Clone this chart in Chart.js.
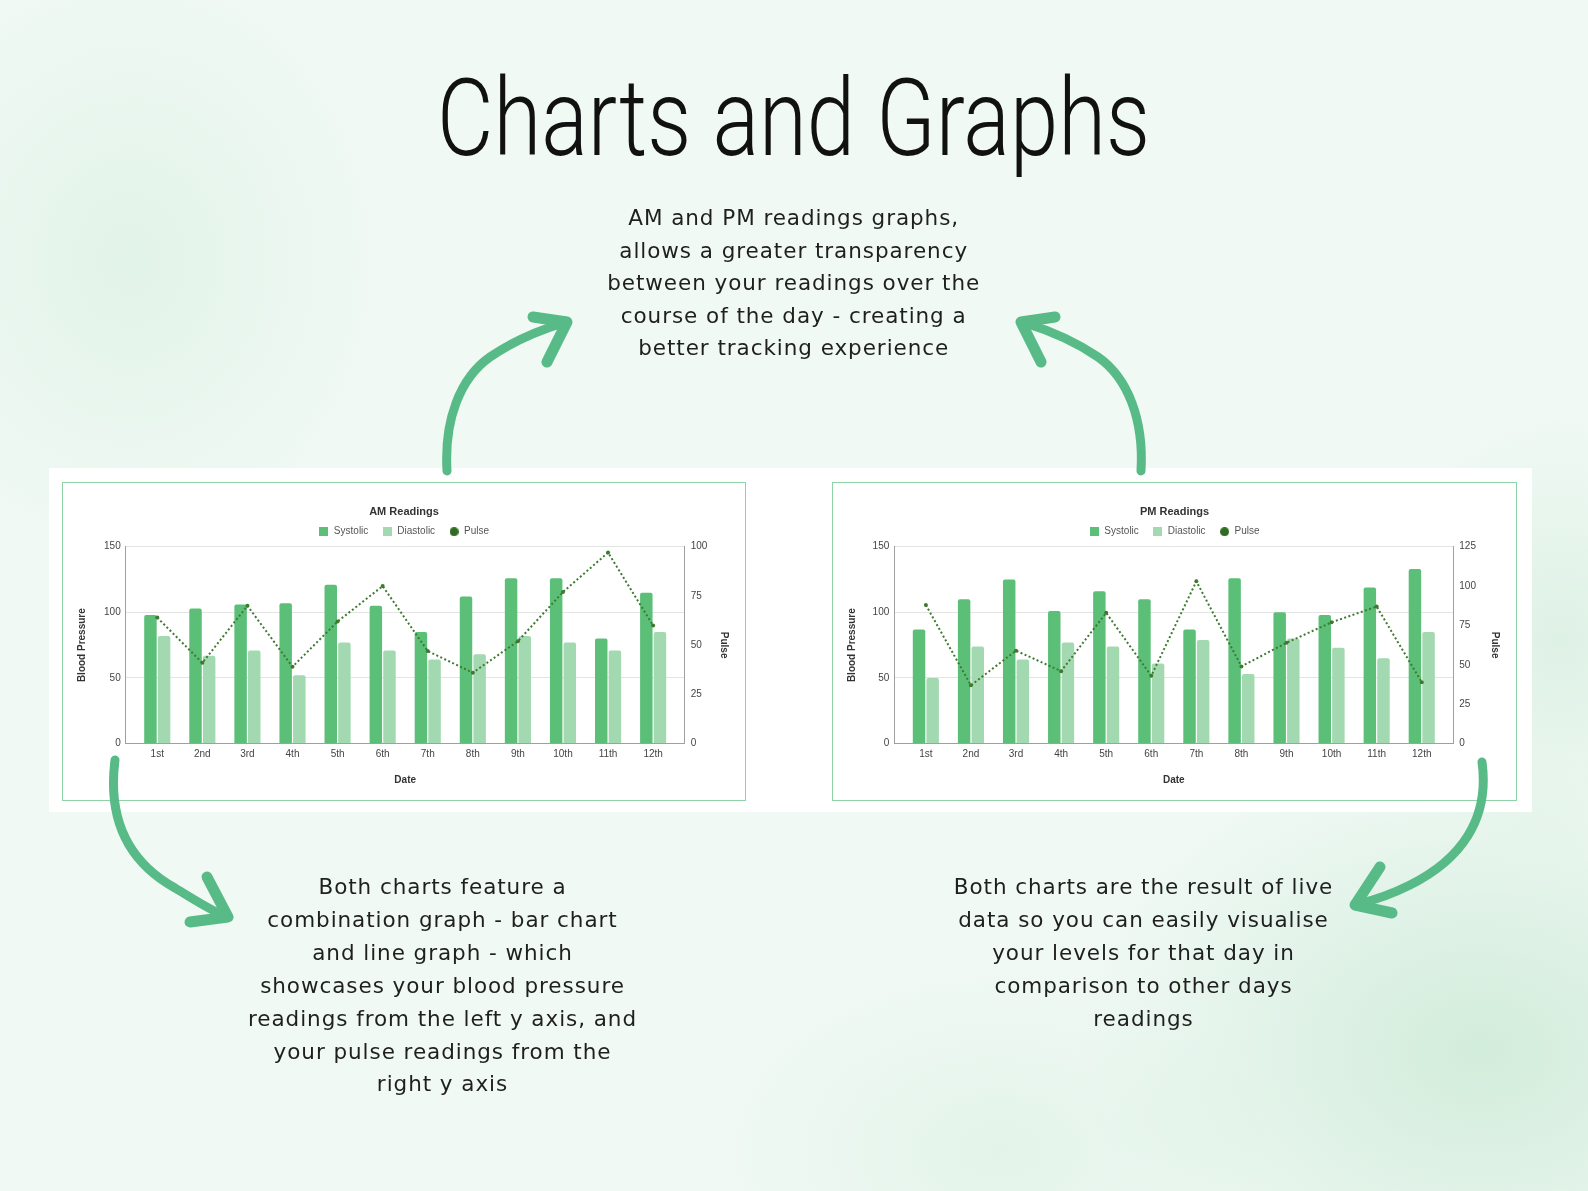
<!DOCTYPE html>
<html><head><meta charset="utf-8">
<script src="https://cdn.jsdelivr.net/npm/chart.js@4.4.1/dist/chart.umd.min.js"></script>
<style>
html,body{margin:0;padding:0;}
body{width:1588px;height:1191px;position:relative;overflow:hidden;background:#eff9f3;}
#bg{position:absolute;left:0;top:0;width:1588px;height:1191px;background:
 radial-gradient(ellipse 360px 420px at 130px 260px, rgba(214,238,223,0.55), rgba(214,238,223,0) 70%),
 radial-gradient(ellipse 560px 420px at 1480px 1050px, rgba(200,232,211,0.75), rgba(200,232,211,0) 72%),
 radial-gradient(ellipse 260px 320px at 1560px 640px, rgba(210,236,219,0.6), rgba(210,236,219,0) 70%),
 radial-gradient(ellipse 400px 260px at 1000px 1150px, rgba(214,238,223,0.5), rgba(214,238,223,0) 70%),
 #f0f9f4;}
#panel{position:absolute;left:49px;top:468px;width:1483px;height:344px;background:#ffffff;}
.cv{position:absolute;}
.box{position:absolute;border:1.5px solid #8fd2a6;box-sizing:border-box;pointer-events:none;}
#overlay{position:absolute;left:0;top:0;}
</style></head>
<body>
<div id="bg"></div>
<div id="panel"></div>
<canvas id="am" class="cv" width="682" height="317" style="left:63px;top:483px;width:682px;height:317px;"></canvas>
<canvas id="pm" class="cv" width="683" height="317" style="left:833px;top:483px;width:683px;height:317px;"></canvas>
<div class="box" style="left:62px;top:482px;width:684px;height:319px;"></div>
<div class="box" style="left:832px;top:482px;width:685px;height:319px;"></div>
<svg id="overlay" width="1588" height="1191" xmlns="http://www.w3.org/2000/svg">
  <g fill="none" stroke="#58bb87" stroke-linecap="round" stroke-linejoin="round">
    <path d="M447,471 C444,420 460,378 490,357 C515,340 540,330 563,323" stroke-width="9"/>
    <path d="M533,317 L567,322 L547,362" stroke-width="11"/>
    <path d="M1141,471 C1144,420 1128,378 1098,357 C1073,340 1048,330 1025,323" stroke-width="9"/>
    <path d="M1055,317 L1021,322 L1041,362" stroke-width="11"/>
    <path d="M115,760 C108,815 125,860 175,888 C195,900 210,910 225,916" stroke-width="9"/>
    <path d="M207,877 L228,917 L190,922" stroke-width="11"/>
    <path d="M1482,762 C1490,820 1460,860 1410,885 C1390,895 1375,900 1358,904" stroke-width="9"/>
    <path d="M1380,867 L1355,905 L1392,913" stroke-width="11"/>
  </g>
  <text id="title" x="793.5" y="155" text-anchor="middle" font-family="Roboto, 'Open Sans', sans-serif" font-weight="300" font-size="108" fill="#111" textLength="713" lengthAdjust="spacingAndGlyphs">Charts and Graphs</text>
  <g id="paras" font-family="'DejaVu Sans', 'Open Sans', sans-serif" font-size="21.5" fill="#1f1f1f" text-anchor="middle"></g>
</svg>
<script>
// ---------- data ----------
const dates = ['1st','2nd','3rd','4th','5th','6th','7th','8th','9th','10th','11th','12th'];
const amSystolic  = [98,103,106,107,121,105,85,112,126,126,80,115];
const amDiastolic = [82,67,71,52,77,71,64,68,82,77,71,85];
const amPulse     = [64,41,70,39,62,80,47,36,52,77,97,60];
const pmSystolic  = [87,110,125,101,116,110,87,126,100,98,119,133];
const pmDiastolic = [50,74,64,77,74,61,79,53,80,73,65,85];
const pmPulse     = [88,37,59,46,83,43,103,49,64,77,87,39];
const bpAxis      = {min:0, max:150, step:50};
const amPulseAxis = {min:0, max:100, step:25};
const pmPulseAxis = {min:0, max:125, step:25};
const seriesNames = ['Systolic','Diastolic','Pulse'];

const topLines = ['AM and PM readings graphs,','allows a greater transparency','between your readings over the','course of the day - creating a','better tracking experience'];
const leftLines = ['Both charts feature a','combination graph - bar chart','and line graph - which','showcases your blood pressure','readings from the left y axis, and','your pulse readings from the','right y axis'];
const rightLines = ['Both charts are the result of live','data so you can easily visualise','your levels for that day in','comparison to other days','readings'];

// ---------- text ----------
(function(){
  const g = document.getElementById('paras');
  const fam = "21.5px 'DejaVu Sans', 'Open Sans', sans-serif";
  const c = document.createElement('canvas').getContext('2d');
  c.font = fam;
  const ref = 'between your readings over the';
  const w = c.measureText(ref).width;
  const ls = (373 - w) / ref.length;
  g.setAttribute('letter-spacing', ls.toFixed(2));
  function block(lines, cx, y0, dy){
    lines.forEach((t,i)=>{
      const el = document.createElementNS('http://www.w3.org/2000/svg','text');
      el.setAttribute('x', cx); el.setAttribute('y', (y0 + i*dy).toFixed(1));
      el.textContent = t; g.appendChild(el);
    });
  }
  block(topLines, 793.7, 225, 32.5);
  block(leftLines, 442.5, 894, 32.9);
  block(rightLines, 1143.5, 894, 32.9);
})();

// ---------- charts ----------
const FAMILY = "'Liberation Sans', Arial, sans-serif";
const SYS = '#5cbf78', DIA = '#a3d9b0', PULSE = '#3d7a30', PULSE_KEY = '#2f6b22';
function marker(shape, color){
  const c = document.createElement('canvas'); c.width = 9; c.height = 9;
  const x = c.getContext('2d'); x.fillStyle = color;
  if (shape === 'rect') x.fillRect(0,0,9,9); else { x.beginPath(); x.arc(4.5,4.5,4.5,0,Math.PI*2); x.fill(); }
  return c;
}
const keys = [marker('rect',SYS), marker('rect',DIA), marker('circle',PULSE_KEY)];

function makeChart(id, title, sys, dia, pulse, pAxis, geo){
  const pts = a => a.map((v,i)=>({x:i+1, y:v}));
  const tickFont = {size:10, family:FAMILY};
  const titleFont = {size:10, family:FAMILY, weight:'bold'};
  return new Chart(document.getElementById(id), {
    type:'bar',
    data:{datasets:[
      {type:'line', label:seriesNames[2], data:pts(pulse), yAxisID:'y1', order:0,
       borderColor:PULSE, backgroundColor:PULSE, borderWidth:2, borderDash:[2,2.4],
       pointRadius:2, pointBackgroundColor:PULSE, pointBorderWidth:0, tension:0, fill:false},
      {label:seriesNames[0], data:pts(sys), yAxisID:'y', order:1, backgroundColor:SYS,
       borderRadius:{topLeft:2, topRight:2}, borderSkipped:'bottom', categoryPercentage:0.605, barPercentage:0.915},
      {label:seriesNames[1], data:pts(dia), yAxisID:'y', order:2, backgroundColor:DIA,
       borderRadius:{topLeft:2, topRight:2}, borderSkipped:'bottom', categoryPercentage:0.605, barPercentage:0.915}
    ]},
    options:{
      responsive:false, animation:false, events:[],
      layout:{padding:0},
      plugins:{
        tooltip:{enabled:false},
        title:{display:true, text:title, color:'#333', font:{size:11, weight:'bold', family:FAMILY}, padding:{top:14, bottom:-6}},
        legend:{display:true, position:'top', labels:{
          usePointStyle:true, boxWidth:10, boxHeight:10, padding:14, color:'#555', font:{size:10, family:FAMILY},
          generateLabels:()=>seriesNames.map((n,i)=>({text:n, pointStyle:keys[i], fillStyle:'rgba(0,0,0,0)', strokeStyle:'rgba(0,0,0,0)', lineWidth:0, hidden:false, datasetIndex:[1,2,0][i], fontColor:'#555'}))
        }}
      },
      scales:{
        x:{type:'linear', min:0.3, max:12.7, offset:false,
           grid:{display:false, drawTicks:false},
           border:{display:true, color:'#a0a0a0', width:1},
           ticks:{stepSize:1, includeBounds:false, autoSkip:false, maxRotation:0, padding:5, color:'#444', font:tickFont,
                  callback:v=>Number.isInteger(v) && v>=1 && v<=dates.length ? dates[v-1] : ''},
           title:{display:true, text:'Date', color:'#333', font:titleFont, padding:{top:0, bottom:14}},
           afterFit:s=>{s.height = geo.bottom;}},
        y:{type:'linear', position:'left', min:bpAxis.min, max:bpAxis.max,
           grid:{color:'#e4e4e4', drawTicks:false},
           border:{display:true, color:'#a0a0a0', width:1},
           ticks:{stepSize:bpAxis.step, padding:5, color:'#444', font:tickFont},
           title:{display:true, text:'Blood Pressure', color:'#333', font:titleFont, padding:{top:13, bottom:0}},
           afterFit:s=>{s.width = geo.left; s.paddingTop = geo.top;}},
        y1:{type:'linear', position:'right', min:pAxis.min, max:pAxis.max,
           grid:{display:false, drawTicks:false},
           border:{display:true, color:'#a0a0a0', width:1},
           ticks:{stepSize:pAxis.step, padding:6, color:'#444', font:tickFont},
           title:{display:true, text:'Pulse', color:'#333', font:titleFont, padding:{top:15, bottom:0}},
           afterFit:s=>{s.width = geo.right;}}
      }
    }
  });
}
makeChart('am','AM Readings', amSystolic, amDiastolic, amPulse, amPulseAxis, {left:62.7, right:60.3, top:63.7, bottom:56.4});
makeChart('pm','PM Readings', pmSystolic, pmDiastolic, pmPulse, pmPulseAxis, {left:61.3, right:62.7, top:63.7, bottom:56.4});
</script>
</body></html>
